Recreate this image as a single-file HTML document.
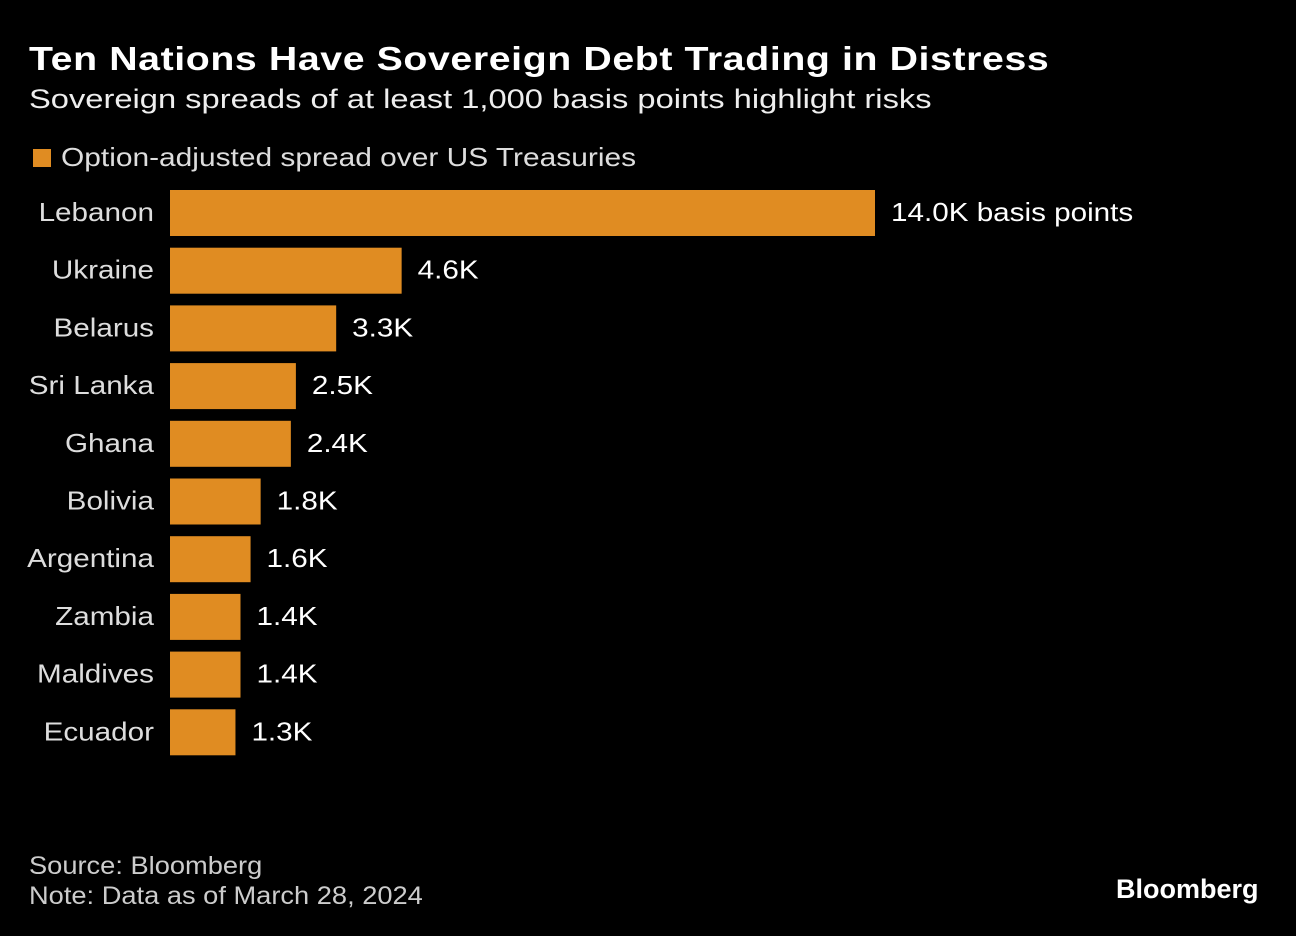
<!DOCTYPE html>
<html><head><meta charset="utf-8"><style>
body{margin:0;background:#000;width:1296px;height:936px;overflow:hidden;font-family:"Liberation Sans","DejaVu Sans",sans-serif;color:#fff}
#title{position:absolute;left:29px;top:40px;font-size:33px;font-weight:bold;letter-spacing:0.5px;transform:scaleX(1.19);transform-origin:0 0;white-space:nowrap}
#sub{position:absolute;left:29px;top:84px;font-size:27px;color:#eee;transform:scaleX(1.21);transform-origin:0 0;white-space:nowrap}
#legend{position:absolute;left:33px;top:142px;font-size:26px;color:#ddd;white-space:nowrap}
#legend span.sw{display:inline-block;width:18px;height:18px;background:#E08C22;margin-right:10px;vertical-align:-1px}
#legend span.lt{display:inline-block;transform:scaleX(1.15);transform-origin:0 0}
.foot{position:absolute;left:29px;font-size:25px;color:#ccc;transform:scaleX(1.09);transform-origin:0 0;white-space:nowrap}
#logo{position:absolute;left:1116px;top:874px;font-size:27px;font-weight:bold}
</style></head><body>
<div id="title">Ten Nations Have Sovereign Debt Trading in Distress</div>
<div id="sub">Sovereign spreads of at least 1,000 basis points highlight risks</div>
<div id="legend"><span class="sw"></span><span class="lt">Option-adjusted spread over US Treasuries</span></div>
<svg id="chart" width="1296" height="800" style="position:absolute;left:0;top:0"></svg>
<div class="foot" style="top:852px">Source: Bloomberg</div>
<div class="foot" style="top:882px">Note: Data as of March 28, 2024</div>
<div id="logo">Bloomberg</div>
<script>
const categories=["Lebanon","Ukraine","Belarus","Sri Lanka","Ghana","Bolivia","Argentina","Zambia","Maldives","Ecuador"];
const values=[14000,4600,3300,2500,2400,1800,1600,1400,1400,1300];
const valueLabels=["14.0K basis points","4.6K","3.3K","2.5K","2.4K","1.8K","1.6K","1.4K","1.4K","1.3K"];
const svg=document.getElementById('chart');
const NS="http://www.w3.org/2000/svg";
const x0=170,scale=705/14000,top0=190,pitch=57.7,bh=46;
const xs=v=>v*scale;
const ys=i=>top0+i*pitch;
function stretch(t){const w=t.getComputedTextLength();t.setAttribute('textLength',w*1.14);t.setAttribute('lengthAdjust','spacingAndGlyphs');}
categories.forEach((c,i)=>{
  const r=document.createElementNS(NS,'rect');
  r.setAttribute('x',x0);r.setAttribute('y',ys(i));r.setAttribute('width',xs(values[i]));r.setAttribute('height',bh);r.setAttribute('fill','#E08C22');
  
  
  svg.appendChild(r);
  const t=document.createElementNS(NS,'text');
  t.setAttribute('x',154);t.setAttribute('y',ys(i)+bh/2+8);t.setAttribute('text-anchor','end');t.setAttribute('fill','#ddd');t.setAttribute('font-size','26');
  t.textContent=c;
  
  
  svg.appendChild(t);stretch(t);
  const v=document.createElementNS(NS,'text');
  v.setAttribute('x',x0+xs(values[i])+16);v.setAttribute('y',ys(i)+bh/2+8);v.setAttribute('fill','#fff');v.setAttribute('font-size','26');
  v.textContent=valueLabels[i];
  
  
  svg.appendChild(v);stretch(v);
});
</script>
</body></html>
